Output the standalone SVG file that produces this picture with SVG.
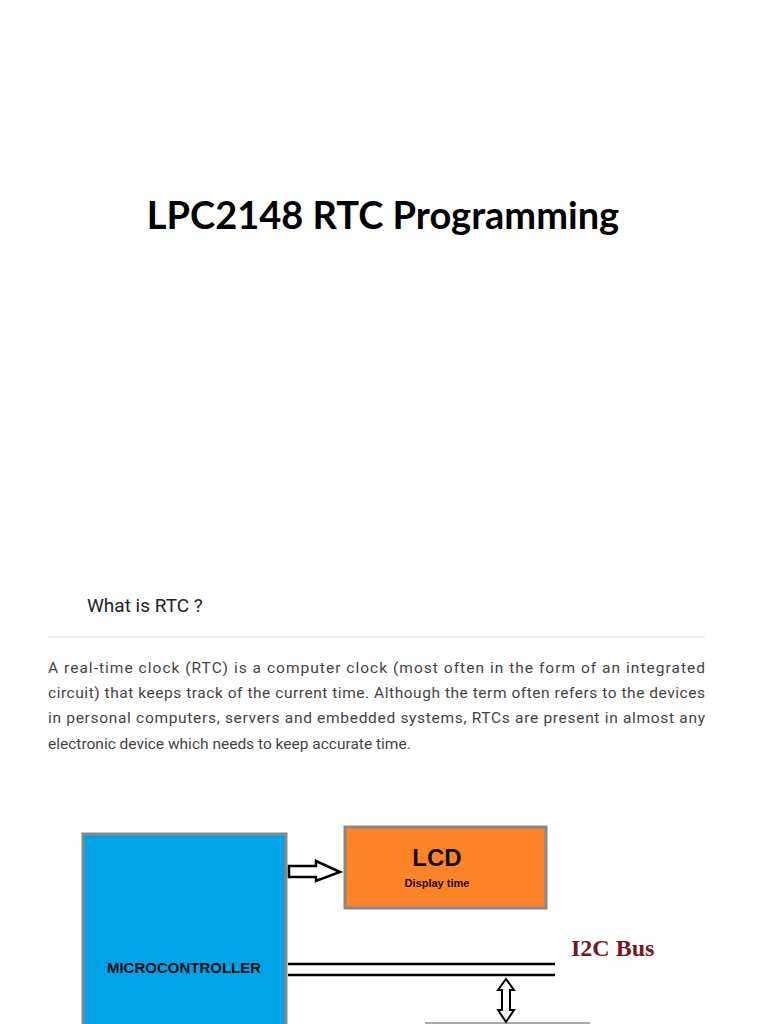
<svg xmlns="http://www.w3.org/2000/svg" width="768" height="1024" viewBox="0 0 768 1024">
<style>
.b{font-family:"Liberation Sans",Arial,sans-serif;}
.p{font-family:"Roboto","Liberation Sans",sans-serif;font-size:15.5px;fill:#444}
</style>
<rect width="768" height="1024" fill="#fff"/>
<text x="383" y="229" text-anchor="middle" font-family="Lato,'Open Sans',sans-serif" font-weight="bold" font-size="38" fill="#000">LPC2148 RTC Programming</text>
<text x="87" y="612" font-family="Roboto,'Liberation Sans',sans-serif" font-size="19" fill="#222">What is RTC ?</text>
<line x1="48" y1="637" x2="705" y2="637" stroke="#ddd" stroke-width="1"/>
<text class="p" x="48" y="673" textLength="657" lengthAdjust="spacing"> A real-time clock (RTC) is a computer clock (most often in the form of an integrated</text>
<text class="p" x="48" y="698" textLength="657" lengthAdjust="spacing">circuit) that keeps track of the current time. Although the term often refers to the devices</text>
<text class="p" x="48" y="723" textLength="657" lengthAdjust="spacing">in personal computers, servers and embedded systems, RTCs are present in almost any</text>
<text class="p" x="48" y="749">electronic device which needs to keep accurate time.</text>
<g id="mcu">
<rect x="83" y="834" width="203" height="200" fill="#00a2e8" stroke="#888" stroke-width="3"/>
<text class="b" x="184" y="973" text-anchor="middle" font-weight="bold" font-size="15" fill="#111">MICROCONTROLLER</text>
</g>
<g id="lcd">
<rect x="345" y="827" width="201" height="81" fill="#ff8327" stroke="#888" stroke-width="3"/>
<text class="b" x="437" y="866" text-anchor="middle" font-weight="bold" font-size="24" fill="#111">LCD</text>
<text class="b" x="437" y="887" text-anchor="middle" font-weight="bold" font-size="11" fill="#111">Display time</text>
</g>
<text x="571" y="956" font-family="'Liberation Serif',serif" font-weight="bold" font-size="24" fill="#7a1520">I2C Bus</text>
<g id="connectors" fill="#fff" stroke="#000" stroke-width="2.5">
<polygon points="289,866 316,866 316,861 340,872 316,881 316,877 289,877"/>
<line x1="288" y1="964" x2="555" y2="964"/>
<line x1="288" y1="975" x2="555" y2="975"/>
<polygon points="506,979 514,990 510,990 510,1010 514,1010 506,1022 498,1010 502,1010 502,990 498,990" stroke-width="2"/>
<line x1="425" y1="1023" x2="590" y2="1023" stroke="#555" stroke-width="1"/>
</g>
</svg>
